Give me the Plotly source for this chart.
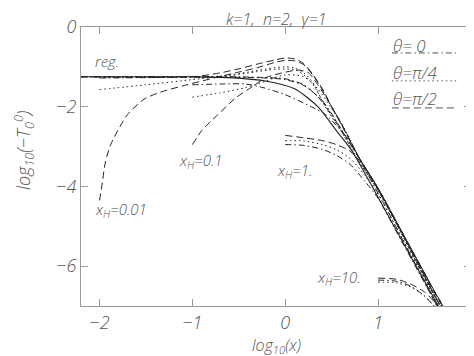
import plotly.graph_objects as go

# ---- data ----
solid_x = [-2.2, -1.0, -0.6, -0.2, 0.1, 0.35, 0.55, 0.7, 0.9, 1.1, 1.35, 1.6, 1.68]
solid_y = [-1.25, -1.25, -1.27, -1.36, -1.55, -2.0, -2.6, -3.05, -3.85, -4.7, -5.75, -6.8, -7.15]

reg_t0_x = [-2.2, -0.5, -0.2, 0.0, 0.2, 0.35, 0.5, 0.65, 0.8, 1.0, 1.2, 1.4, 1.6, 1.7]
reg_t0_y = [-1.25, -1.25, -1.27, -1.3, -1.45, -1.75, -2.2, -2.75, -3.3, -4.05, -4.9, -5.8, -6.7, -7.15]
reg_t4_x = [-2.2, -0.7, -0.4, -0.2, 0.0, 0.1, 0.2, 0.3, 0.43, 0.6, 0.7, 0.8, 1.0, 1.2, 1.4, 1.6, 1.72]
reg_t4_y = [-1.25, -1.23, -1.13, -1.05, -1.0, -1.03, -1.15, -1.4, -2.0, -2.6, -3.0, -3.4, -4.1, -4.95, -5.85, -6.7, -7.15]
reg_t2_x = [-2.2, -1.0, -0.7, -0.5, -0.3, -0.1, 0.0, 0.1, 0.2, 0.3, 0.4, 0.5, 0.6, 0.7, 0.8, 1.0, 1.2, 1.4, 1.6, 1.74]
reg_t2_y = [-1.25, -1.25, -1.15, -1.05, -0.93, -0.82, -0.78, -0.8, -0.92, -1.2, -1.55, -2.0, -2.4, -2.85, -3.3, -4.05, -4.9, -5.75, -6.6, -7.15]

xh001_t0_x = [-2.0, -1.5, -1.0, -0.6, -0.2, 0.0, 0.2, 0.4, 0.6, 0.8, 1.0, 1.2, 1.4, 1.6, 1.7]
xh001_t0_y = [-1.28, -1.27, -1.26, -1.26, -1.28, -1.32, -1.47, -1.85, -2.55, -3.3, -4.05, -4.9, -5.8, -6.7, -7.15]
xh001_t4_x = [-2.0, -1.5, -1.0, -0.6, -0.3, -0.1, 0.1, 0.2, 0.3, 0.45, 0.6, 0.8, 1.0, 1.2, 1.4, 1.6, 1.71]
xh001_t4_y = [-1.57, -1.45, -1.32, -1.22, -1.12, -1.06, -1.07, -1.2, -1.45, -2.05, -2.6, -3.4, -4.1, -4.95, -5.85, -6.7, -7.15]
xh001_t2_x = [-2.0, -1.97, -1.94, -1.88, -1.7, -1.52, -1.35, -1.06, -0.75, -0.5, -0.3, -0.1, 0.0, 0.1, 0.2, 0.3, 0.4, 0.5, 0.6, 0.7, 0.8, 1.0, 1.2, 1.4, 1.6, 1.73]
xh001_t2_y = [-4.35, -3.9, -3.42, -2.95, -2.2, -1.81, -1.64, -1.45, -1.27, -1.13, -1.02, -0.88, -0.84, -0.85, -0.95, -1.22, -1.58, -2.02, -2.42, -2.87, -3.32, -4.07, -4.92, -5.77, -6.62, -7.15]

xh01_t0_x = [-1.0, -0.7, -0.43, -0.24, 0.0, 0.28, 0.43, 0.6, 0.75, 0.9, 1.1, 1.3, 1.5, 1.66]
xh01_t0_y = [-1.45, -1.43, -1.43, -1.52, -1.7, -2.0, -2.19, -2.6, -3.1, -3.75, -4.6, -5.5, -6.4, -7.15]
xh01_t4_x = [-1.0, -0.7, -0.43, -0.2, 0.0, 0.2, 0.35, 0.5, 0.65, 0.8, 1.0, 1.2, 1.4, 1.6, 1.71]
xh01_t4_y = [-1.76, -1.65, -1.52, -1.35, -1.2, -1.25, -1.55, -2.05, -2.6, -3.3, -4.1, -4.95, -5.85, -6.7, -7.15]
xh01_t2_x = [-1.0, -0.9, -0.74, -0.53, -0.35, -0.21, -0.03, 0.14, 0.25, 0.35, 0.5, 0.65, 0.8, 1.0, 1.2, 1.4, 1.6, 1.73]
xh01_t2_y = [-2.95, -2.6, -2.23, -1.77, -1.49, -1.27, -1.15, -1.08, -1.15, -1.45, -2.0, -2.65, -3.3, -4.08, -4.93, -5.78, -6.63, -7.15]

xh1_t0_x = [0.0, 0.2, 0.4, 0.55, 0.7, 0.85, 1.0, 1.2, 1.4, 1.6, 1.68]
xh1_t0_y = [-2.95, -2.97, -3.07, -3.22, -3.45, -3.85, -4.3, -5.15, -6.0, -6.85, -7.2]
xh1_t4_x = [0.0, 0.2, 0.4, 0.55, 0.7, 0.85, 1.0, 1.2, 1.4, 1.6, 1.7]
xh1_t4_y = [-2.85, -2.86, -2.95, -3.08, -3.3, -3.7, -4.2, -5.05, -5.9, -6.75, -7.2]
xh1_t2_x = [0.0, 0.2, 0.4, 0.55, 0.7, 0.85, 1.0, 1.2, 1.4, 1.6, 1.73]
xh1_t2_y = [-2.72, -2.78, -2.85, -2.95, -3.12, -3.5, -4.05, -4.9, -5.75, -6.6, -7.15]

xh10_t0_x = [1.0, 1.2, 1.35, 1.5, 1.6, 1.66]
xh10_t0_y = [-6.35, -6.38, -6.5, -6.75, -7.0, -7.2]
xh10_t4_x = [1.0, 1.2, 1.35, 1.5, 1.6, 1.68]
xh10_t4_y = [-6.4, -6.42, -6.52, -6.75, -7.0, -7.2]
xh10_t2_x = [1.0, 1.2, 1.35, 1.5, 1.6, 1.7]
xh10_t2_y = [-6.3, -6.33, -6.45, -6.65, -6.88, -7.15]

x_ticks = [-2, -1, 0, 1, 2]
x_tick_labels = ["\u22122", "\u22121", "0", "1", "2"]
y_ticks = [0, -2, -4, -6]
y_tick_labels = ["0", "\u22122", "\u22124", "\u22126"]

labels_text = ["reg.", "x<sub>H</sub>=0.01", "x<sub>H</sub>=0.1", "x<sub>H</sub>=1.", "x<sub>H</sub>=10."]
labels_x = [-2.07, -2.07, -1.17, -0.11, 0.32]
labels_y = [-0.85, -4.6, -3.35, -3.62, -6.3]

legend_text = ["\u03b8= 0", "\u03b8=\u03c0/4", "\u03b8=\u03c0/2"]

# ---- styles ----
LC = "#222"
DASH = {"t0": "6px,3px,1.5px,3px", "t4": "1.5px,3px", "t2": "7px,4px"}

fig = go.Figure()

def add(x, y, style, width=1.0):
    fig.add_trace(go.Scatter(x=x, y=y, mode="lines", showlegend=False, hoverinfo="skip",
                             line=dict(color=LC, width=width, dash=style, shape="spline", smoothing=0.7)))

add(solid_x, solid_y, "solid", 1.1)
for (xx, yy, k) in [
    (reg_t0_x, reg_t0_y, "t0"), (reg_t4_x, reg_t4_y, "t4"), (reg_t2_x, reg_t2_y, "t2"),
    (xh001_t0_x, xh001_t0_y, "t0"), (xh001_t4_x, xh001_t4_y, "t4"), (xh001_t2_x, xh001_t2_y, "t2"),
    (xh01_t0_x, xh01_t0_y, "t0"), (xh01_t4_x, xh01_t4_y, "t4"), (xh01_t2_x, xh01_t2_y, "t2"),
    (xh1_t0_x, xh1_t0_y, "t0"), (xh1_t4_x, xh1_t4_y, "t4"), (xh1_t2_x, xh1_t2_y, "t2"),
    (xh10_t0_x, xh10_t0_y, "t0"), (xh10_t4_x, xh10_t4_y, "t4"), (xh10_t2_x, xh10_t2_y, "t2"),
]:
    add(xx, yy, DASH[k])

FONT = "Open Sans"
TC = "#555"
W = 300
for t, x, y in zip(labels_text, labels_x, labels_y):
    fig.add_annotation(x=x, y=y, text=t, showarrow=False, xanchor="left", yanchor="middle",
                       font=dict(family=FONT, size=15, color=TC, style="italic", weight=W))

# legend (text with sample line beneath)
leg_y_text = [0.935, 0.838, 0.742]
leg_y_line = [0.907, 0.807, 0.71]
for t, yt, yl, k in zip(legend_text, leg_y_text, leg_y_line, ["t0", "t4", "t2"]):
    fig.add_annotation(x=0.795, y=yt, xref="paper", yref="paper", text=t, showarrow=False,
                       xanchor="left", yanchor="middle",
                       font=dict(family=FONT, size=17, color=TC, style="italic", weight=W))
    fig.add_shape(type="line", xref="paper", yref="paper", x0=0.797, x1=0.962, y0=yl, y1=yl,
                  line=dict(color="#555", width=1, dash=DASH[k]))

fig.add_annotation(x=0.5, y=1.029, xref="paper", yref="paper", text="k=1,  n=2,  \u03b3=1",
                   showarrow=False, xanchor="center", yanchor="middle",
                   font=dict(family=FONT, size=16, color=TC, style="italic", weight=W))
fig.add_annotation(x=0.5, y=-0.14, xref="paper", yref="paper",
                   text="log<sub>10</sub>(x)", showarrow=False, xanchor="center", yanchor="middle",
                   font=dict(family=FONT, size=16, color=TC, style="italic", weight=W))
fig.add_annotation(x=-0.148, y=0.56, xref="paper", yref="paper", textangle=-90,
                   text="log<sub>10</sub>(\u2212T<sub>0</sub><sup>0</sup>)", showarrow=False,
                   xanchor="center", yanchor="middle",
                   font=dict(family=FONT, size=18, color=TC, style="italic", weight=W))

axis_common = dict(showgrid=False, zeroline=False, showline=True, linecolor="#999", linewidth=1,
                   mirror="ticks", ticks="inside", ticklen=7, tickcolor="#999",
                   tickfont=dict(family=FONT, size=18, color=TC, style="italic", weight=W))
fig.update_xaxes(range=[-2.2, 2.0], tickvals=x_ticks, ticktext=x_tick_labels, **axis_common)
fig.update_yaxes(range=[-7.0, 0.0], tickvals=y_ticks, ticktext=y_tick_labels, **axis_common)

fig.update_layout(width=474, height=356, margin=dict(l=73, r=6, t=18, b=58),
                  plot_bgcolor="white", paper_bgcolor="white")

fig.write_html("out.html")
